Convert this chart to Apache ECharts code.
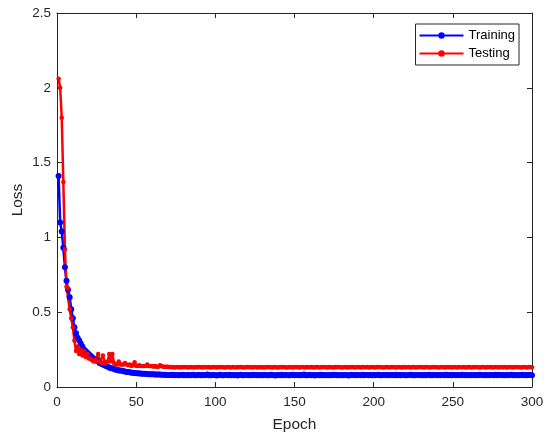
<!DOCTYPE html>
<html>
<head>
<meta charset="utf-8">
<script src="https://cdn.jsdelivr.net/npm/echarts@6/dist/echarts.min.js"></script>
<style>html,body{margin:0;padding:0;background:#fff}#c{width:550px;height:442px}</style>
</head>
<body>
<div id="c"></div>
<script>
var seriesNames = ['Training', 'Testing'];
var xTicks = [0, 50, 100, 150, 200, 250, 300];
var yTicks = [0, 0.5, 1, 1.5, 2, 2.5];

var trainingLoss = [
1.41,1.10,1.04,0.93,0.80,0.71,0.65,0.60,0.52,0.46,0.40,0.36,0.33,0.31,0.29,0.27,0.25,0.24,0.23,0.22,
0.21,0.20,0.19,0.18,0.175,0.17,0.16,0.155,0.15,0.145,0.14,0.135,0.13,0.125,0.125,0.12,0.115,0.115,0.11,0.11,
0.108,0.105,0.103,0.100,0.100,0.098,0.096,0.095,0.094,0.092,0.092,0.090,0.090,0.089,0.088,0.088,0.087,0.086,0.086,0.085,
0.085,0.084,0.084,0.083,0.083,0.082,0.082,0.082,0.081,0.081,
0.081,0.080,0.082,0.079,0.080,0.081,0.078,0.080,0.082,0.079,0.080,0.078,0.081,0.079,0.080,0.082,0.078,0.079,0.081,0.080,
0.079,0.081,0.078,0.080,0.083,0.079,0.078,0.080,0.081,0.079,0.077,0.080,0.082,0.079,0.078,0.081,0.080,0.079,0.082,0.078,
0.080,0.079,0.081,0.077,0.080,0.082,0.079,0.078,0.080,0.081,0.079,0.080,0.078,0.082,0.080,0.079,0.081,0.078,0.080,0.079,
0.081,0.080,0.078,0.079,0.082,0.080,0.079,0.077,0.081,0.080,0.079,0.082,0.078,0.080,0.081,0.079,0.078,0.080,0.082,0.079,
0.080,0.078,0.081,0.079,0.080,0.083,0.079,0.078,0.080,0.081,0.079,0.080,0.077,0.081,0.080,0.079,0.082,0.078,0.080,0.079,
0.081,0.079,0.080,0.078,0.082,0.080,0.079,0.081,0.078,0.080,0.079,0.081,0.080,0.077,0.079,0.082,0.080,0.079,0.081,0.078,
0.080,0.079,0.082,0.078,0.080,0.081,0.079,0.080,0.078,0.081,0.079,0.080,0.082,0.079,0.078,0.080,0.081,0.079,0.080,0.078,
0.081,0.080,0.079,0.082,0.078,0.080,0.079,0.081,0.080,0.078,0.079,0.081,0.080,0.082,0.079,0.078,0.080,0.081,0.079,0.080,
0.078,0.081,0.079,0.080,0.082,0.079,0.078,0.080,0.081,0.079,0.080,0.078,0.081,0.080,0.079,0.082,0.078,0.080,0.079,0.081,
0.080,0.079,0.081,0.078,0.080,0.082,0.079,0.080,0.078,0.081,0.079,0.080,0.081,0.078,0.080,0.079,0.082,0.080,0.079,0.081,
0.079,0.080,0.078,0.081,0.080,0.079,0.082,0.078,0.080,0.081,0.079,0.080,0.078,0.081,0.079,0.080,0.082,0.079,0.080,0.078,
0.081,0.079,0.080,0.082,0.078,0.080,0.079,0.081,0.080,0.079
];

var testingLoss = [
2.06,2.00,1.80,1.37,0.92,0.67,0.66,0.52,0.46,0.40,0.31,0.24,0.27,0.22,0.25,0.21,0.24,0.20,0.22,0.19,
0.19,0.18,0.17,0.18,0.17,0.22,0.17,0.16,0.21,0.17,0.16,0.17,0.22,0.17,0.22,0.16,0.15,0.15,0.17,0.15,
0.150,0.150,0.160,0.150,0.145,0.150,0.140,0.145,0.165,0.140,0.140,0.145,0.140,0.140,0.140,0.140,0.150,0.140,0.140,0.140,
0.135,0.140,0.135,0.135,0.145,0.140,0.135,0.135,0.135,0.135,
0.133,0.132,0.134,0.131,0.132,0.133,0.132,0.131,0.133,0.132,0.134,0.132,0.131,0.133,0.132,0.132,0.131,0.133,0.132,0.134,
0.132,0.131,0.133,0.132,0.132,0.134,0.131,0.132,0.133,0.132,0.131,0.133,0.132,0.134,0.132,0.131,0.132,0.133,0.132,0.131,
0.133,0.132,0.131,0.134,0.132,0.133,0.132,0.131,0.132,0.133,0.132,0.134,0.131,0.132,0.133,0.132,0.131,0.133,0.132,0.132,
0.131,0.133,0.132,0.134,0.132,0.131,0.133,0.132,0.132,0.131,0.133,0.132,0.134,0.132,0.131,0.132,0.133,0.132,0.131,0.133,
0.132,0.134,0.131,0.132,0.133,0.132,0.131,0.133,0.132,0.132,0.134,0.131,0.132,0.133,0.132,0.131,0.133,0.132,0.134,0.132,
0.131,0.133,0.132,0.132,0.131,0.133,0.132,0.134,0.132,0.131,0.132,0.133,0.132,0.131,0.133,0.132,0.134,0.131,0.132,0.133,
0.132,0.131,0.133,0.132,0.132,0.134,0.131,0.132,0.133,0.132,0.131,0.133,0.132,0.134,0.132,0.131,0.132,0.133,0.132,0.131,
0.133,0.132,0.134,0.131,0.132,0.133,0.132,0.131,0.133,0.132,0.132,0.134,0.131,0.132,0.133,0.132,0.131,0.133,0.132,0.134,
0.132,0.131,0.133,0.132,0.132,0.131,0.133,0.132,0.134,0.132,0.131,0.132,0.133,0.132,0.131,0.133,0.132,0.134,0.131,0.132,
0.133,0.132,0.131,0.133,0.132,0.132,0.134,0.131,0.132,0.133,0.132,0.131,0.133,0.132,0.134,0.132,0.131,0.132,0.133,0.132,
0.131,0.133,0.132,0.134,0.131,0.132,0.133,0.132,0.131,0.133,0.132,0.132,0.134,0.131,0.132,0.133,0.132,0.131,0.133,0.132,
0.134,0.132,0.131,0.132,0.133,0.132,0.131,0.133,0.132,0.132
];

function pairs(arr) { return arr.map(function (v, i) { return [i + 1, v]; }); }

var font = 'Liberation Sans, Arial, Helvetica, sans-serif';
var axisColor = '#262626';
var chart = echarts.init(document.getElementById('c'), null, { renderer: 'canvas' });

function mkX(pos, show) {
  return {
    type: 'value', position: pos, min: xTicks[0], max: xTicks[xTicks.length - 1], interval: xTicks[1] - xTicks[0],
    name: show ? 'Epoch' : '', nameLocation: 'middle', nameGap: 30,
    nameTextStyle: { fontFamily: font, fontSize: 15.5, color: axisColor },
    axisLine: { show: true, onZero: false, lineStyle: { color: axisColor, width: 1 } },
    axisTick: { show: true, inside: true, length: 5, lineStyle: { color: axisColor } },
    axisLabel: { show: show, fontFamily: font, fontSize: 13.5, color: axisColor, margin: 8 },
    splitLine: { show: false }
  };
}
function mkY(pos, show) {
  return {
    type: 'value', position: pos, min: yTicks[0], max: yTicks[yTicks.length - 1], interval: yTicks[1] - yTicks[0],
    name: show ? 'Loss' : '', nameLocation: 'middle', nameGap: 31, nameRotate: 90, nameMoveOverlap: false,
    nameTextStyle: { fontFamily: font, fontSize: 15.5, color: axisColor },
    axisLine: { show: true, onZero: false, lineStyle: { color: axisColor, width: 1 } },
    axisTick: { show: true, inside: true, length: 5, lineStyle: { color: axisColor } },
    axisLabel: { show: show, fontFamily: font, fontSize: 13.5, color: axisColor, margin: 6 },
    splitLine: { show: false }
  };
}

chart.setOption({
  animation: false,
  backgroundColor: '#ffffff',
  grid: { left: 57, right: 18, top: 13, bottom: 55, containLabel: false, outerBoundsMode: 'none' },
  xAxis: [mkX('bottom', true), mkX('top', false)],
  yAxis: [mkY('left', true), mkY('right', false)],
  legend: {
    orient: 'vertical', right: 31, top: 24,
    data: seriesNames,
    backgroundColor: '#ffffff',
    borderColor: axisColor, borderWidth: 1, borderRadius: 0,
    padding: [5, 4, 5, 3],
    itemWidth: 44, itemHeight: 8, itemGap: 5,
    textStyle: { fontFamily: font, fontSize: 13, color: '#000' }
  },
  series: [
    {
      name: seriesNames[0], type: 'line', xAxisIndex: 0, yAxisIndex: 0,
      data: pairs(trainingLoss),
      symbol: 'circle', symbolSize: 6, showAllSymbol: true,
      lineStyle: { color: '#0000ff', width: 2.5 },
      itemStyle: { color: '#0000ff' }
    },
    {
      name: seriesNames[1], type: 'line', xAxisIndex: 0, yAxisIndex: 0,
      data: pairs(testingLoss),
      symbol: 'circle', symbolSize: 4.5, showAllSymbol: true,
      lineStyle: { color: '#ff0000', width: 2.5 },
      itemStyle: { color: '#ff0000' }
    }
  ]
});
</script>
</body>
</html>
